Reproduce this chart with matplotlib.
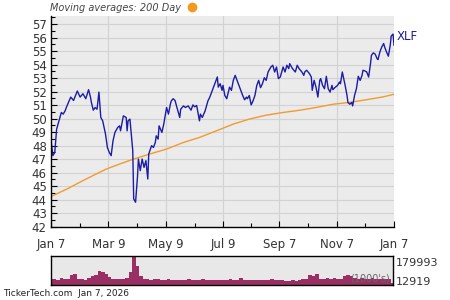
import matplotlib.pyplot as plt
from matplotlib.lines import Line2D
import numpy as np
import pandas as pd

# price readings: days after Jan 7 2025, close
price_days = [0, 2, 4, 6, 10, 11, 13, 15, 17, 21, 24, 28, 31, 34, 37, 40, 42, 43, 45, 47,
              49, 51, 53, 55, 58, 60, 62, 64, 66, 68, 71, 73, 74, 77, 80, 81, 82, 84, 87, 88,
              90, 92, 93, 95, 97, 99, 101, 103, 104, 107, 109, 111, 112, 114, 115, 118, 120, 123, 125, 127,
              128, 130, 132, 134, 137, 138, 141, 143, 146, 149, 151, 153, 155, 158, 159, 161, 164, 166, 167, 169,
              173, 176, 177, 178, 180, 182, 183, 185, 187, 190, 192, 194, 196, 198, 200, 202, 204, 206, 208, 209,
              211, 213, 215, 217, 219, 221, 223, 225, 227, 229, 231, 234, 236, 238, 240, 242, 244, 247, 249, 251,
              253, 254, 257, 260, 262, 264, 267, 269, 270, 272, 275, 277, 278, 280, 282, 284, 286, 287, 289, 291,
              293, 295, 297, 299, 300, 302, 305, 307, 308, 310, 313, 315, 316, 318, 320, 321, 323, 325, 327, 329,
              331, 332, 334, 336, 338, 340, 341, 343, 345, 347, 348, 350, 352, 354, 355, 357, 359, 361, 362, 364,
              365]
price = [48.40, 47.25, 47.49, 49.22, 50.20, 50.45, 50.33, 50.57, 50.94, 51.59, 51.34, 52.04, 51.59, 51.84, 51.47, 52.14, 51.59, 51.19, 50.62, 50.82,
         50.69, 51.96, 50.08, 49.83, 48.85, 47.86, 47.49, 47.25, 48.35, 48.97, 49.34, 49.46, 49.09, 50.20, 50.08, 49.09, 49.83, 49.96, 47.62, 44.04,
         43.80, 45.65, 47.00, 46.14, 47.00, 46.38, 46.88, 45.52, 47.37, 47.99, 47.86, 48.23, 48.72, 48.48, 49.46, 48.97, 49.59, 50.82, 50.33, 51.06,
         51.31, 51.47, 51.34, 50.82, 50.08, 50.69, 50.94, 50.82, 50.94, 50.62, 51.01, 50.87, 50.97, 49.83, 50.33, 50.08, 50.57, 51.06, 51.31, 51.59,
         52.33, 52.88, 53.08, 52.33, 52.58, 52.09, 52.46, 51.71, 51.47, 52.33, 52.09, 52.83, 53.20, 52.83, 52.46, 52.09, 51.71, 51.39, 51.59, 51.47,
         51.71, 51.01, 51.31, 51.71, 52.46, 52.83, 52.29, 52.58, 53.03, 52.83, 53.45, 53.82, 53.95, 53.45, 53.82, 52.96, 53.08, 53.82, 53.45, 53.95,
         53.70, 54.07, 53.70, 53.45, 53.95, 53.70, 53.45, 53.20, 53.45, 53.58, 53.33, 53.08, 52.09, 52.83, 52.33, 51.59, 52.83, 52.96, 52.46, 52.21,
         53.13, 52.21, 51.96, 52.46, 52.14, 52.29, 52.46, 52.71, 52.58, 53.45, 52.46, 51.71, 51.19, 51.06, 51.19, 50.94, 51.71, 52.21, 53.13, 52.83,
         53.20, 53.58, 53.53, 53.45, 53.08, 54.07, 54.69, 54.87, 54.77, 54.44, 54.37, 54.94, 55.31, 55.56, 55.31, 54.94, 54.62, 55.44, 56.11, 56.26,
         55.44]

# 200 day moving average
ma_days = [0, 17, 34, 48, 59, 73, 88, 105, 123, 141, 158, 176, 194, 211, 229, 247, 265, 282, 300, 318, 336, 353, 365]
ma200 = [44.22, 44.78, 45.40, 45.89, 46.26, 46.63, 47.00, 47.37, 47.74, 48.23, 48.60, 49.09, 49.59, 49.96, 50.25, 50.45, 50.62, 50.82, 51.06, 51.20, 51.40, 51.60, 51.80]

# volume (1000's)
volume = [35000, 40000, 30000, 45000, 35000, 40000, 60000, 70000, 35000, 38000,
          30000, 42000, 55000, 65000, 85000, 78000, 70000, 50000, 40000, 35000,
          38000, 40000, 45000, 80000, 179993, 120000, 55000, 40000, 38000, 32000,
          35000, 40000, 33000, 30000, 36000, 32000, 30000, 34000, 28000, 30000,
          35000, 30000, 28000, 32000, 36000, 30000, 33000, 28000, 30000, 32000,
          30000, 28000, 35000, 30000, 32000, 45000, 30000, 28000, 32000, 30000,
          33000, 30000, 28000, 32000, 35000, 30000, 32000, 28000, 27000, 25000,
          28000, 26000, 30000, 35000, 38000, 65000, 55000, 70000, 40000, 38000,
          42000, 36000, 45000, 38000, 40000, 55000, 62000, 58000, 45000, 40000,
          42000, 38000, 40000, 45000, 38000, 40000, 35000, 38000, 40000, 12919]
vol_max = 179993
vol_last = 12919

month_ticks = ['2025-01-07', '2025-03-09', '2025-05-09', '2025-07-09', '2025-09-07', '2025-11-07', '2026-01-07']
month_labels = ['Jan 7', 'Mar 9', 'May 9', 'Jul 9', 'Sep 7', 'Nov 7', 'Jan 7']
mid_ticks = ['2025-02-07', '2025-04-09', '2025-06-09', '2025-08-08', '2025-10-07', '2025-12-07']

start = pd.Timestamp('2025-01-07')
end = pd.Timestamp('2026-01-07')
p_dates = start + pd.to_timedelta(price_days, unit='D')
m_dates = start + pd.to_timedelta(ma_days, unit='D')
v_dates = pd.date_range(start, end, periods=len(volume))

fig = plt.figure(figsize=(4.5, 3), dpi=100)
ax = fig.add_axes([51/450, 1-226.5/300, 343/450, 210.5/300])
ax.set_facecolor('#ebebeb')
ax.plot(m_dates, ma200, color='#f39a2e', lw=1.0)
ax.plot(p_dates, price, color='#1c1ca6', lw=1.0)
ax.set_xlim(start, end)
ax.set_ylim(42, 57.6)
ax.set_yticks(range(42, 58))
ax.set_yticks(np.arange(42.5, 57.6, 1), minor=True)
ax.set_xticks(pd.to_datetime(month_ticks))
ax.set_xticklabels(month_labels)
ax.set_xticks(pd.to_datetime(mid_ticks), minor=True)
ax.grid(True, which='major', color='#d2d2d2', lw=0.8)
ax.set_axisbelow(True)
for s in ['top', 'right']:
    ax.spines[s].set_visible(False)
for s in ['left', 'bottom']:
    ax.spines[s].set_color('black')
    ax.spines[s].set_linewidth(1.0)
ax.tick_params(which='major', direction='in', length=4, width=0.8, labelsize=8.5, colors='black',
               labelcolor='#333333', pad=3)
ax.tick_params(axis='x', which='major', pad=8)
ax.tick_params(which='minor', direction='in', length=3, width=0.8)
ax.text(1.008, 56.1, 'XLF', transform=ax.get_yaxis_transform(), color='#1c1c8c', fontsize=8.5, va='center')

fig.text(50/450, 1-8/300, 'Moving averages: 200 Day', fontsize=7, style='italic', color='#444444', va='center')
fig.add_artist(Line2D([192/450], [1-7/300], marker='o', markersize=6, color='#f39a1e',
                      transform=fig.transFigure))

vax = fig.add_axes([51/450, 15/300, 342/450, 29/300])
vax.set_facecolor('#e8e8e8')
vax.bar(v_dates, volume, width=3.7, color='#9a2f63', align='center')
vax.set_xlim(start, end)
vax.set_ylim(0, vol_max)
vax.set_xticks([])
vax.set_yticks([])
for s in vax.spines.values():
    s.set_color('black')
    s.set_linewidth(1.0)
vax.text(0.99, 0.05, "(1000's)", transform=vax.transAxes, ha='right', va='bottom', fontsize=7, color='#666666')
fig.text(396/450, 1-263/300, str(vol_max), fontsize=8, color='#333333', va='center')
fig.text(396/450, 1-282/300, str(vol_last), fontsize=8, color='#333333', va='center')

fig.text(3/450, 1-294/300, 'TickerTech.com  Jan 7, 2026', fontsize=6.5, color='#222222', va='center')

fig.savefig('out.png', dpi=100)
